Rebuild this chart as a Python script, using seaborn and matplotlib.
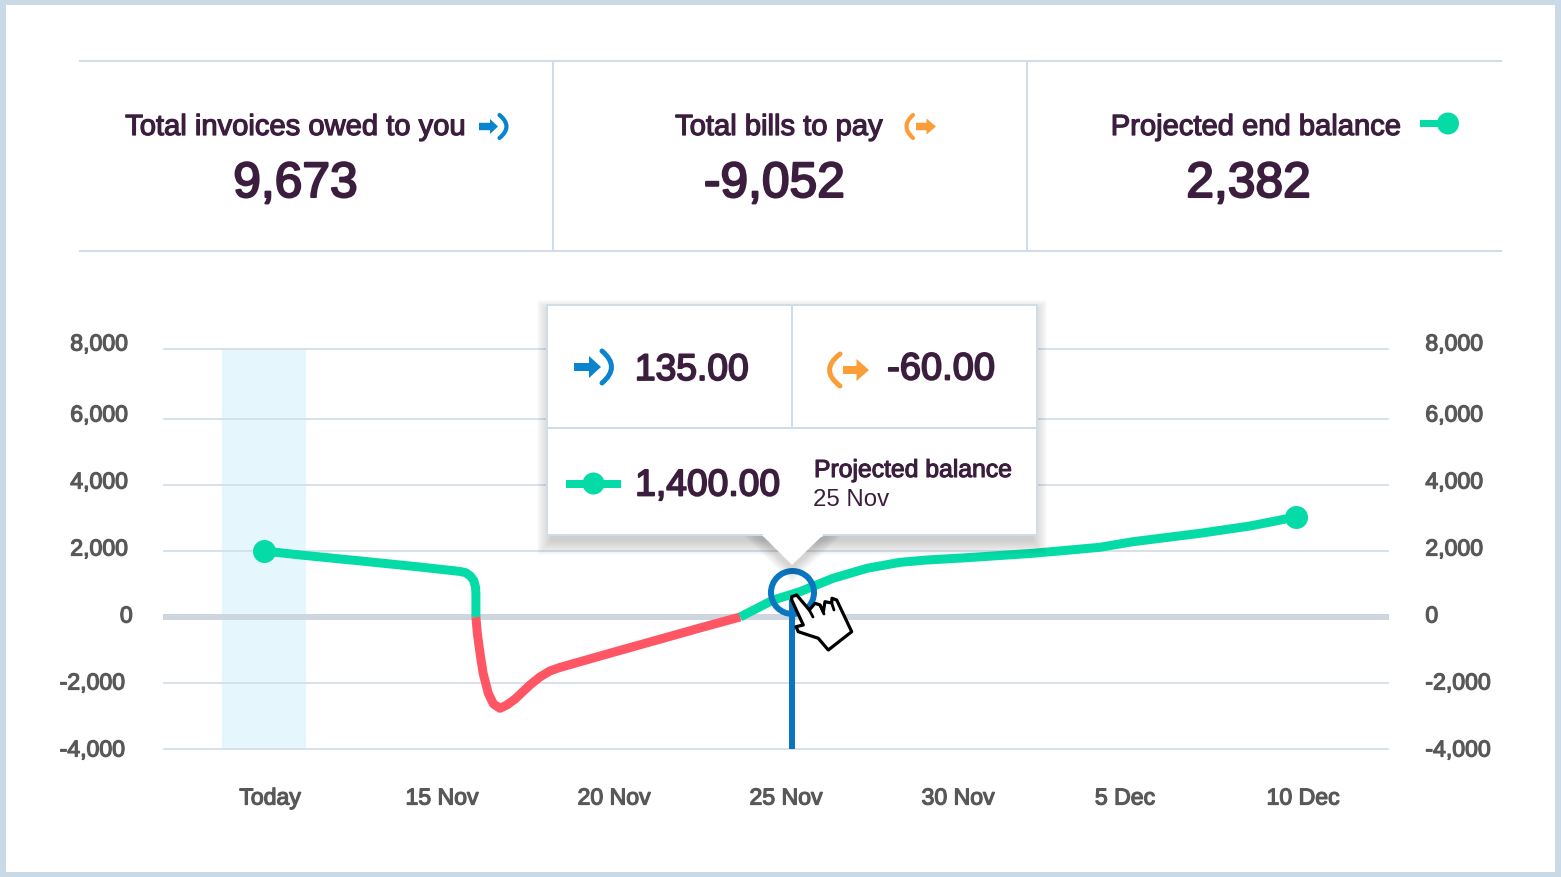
import numpy as np
import pandas as pd
import matplotlib
matplotlib.use("Agg")
import matplotlib.pyplot as plt
import matplotlib.patheffects as pe
from matplotlib.patches import Rectangle, Circle, Polygon, PathPatch
from matplotlib.path import Path
from matplotlib.transforms import ScaledTranslation
import seaborn as sns

# ---------- data ----------
kpi_labels = ["Total invoices owed to you", "Total bills to pay", "Projected end balance"]
kpi_values = ["9,673", "-9,052", "2,382"]
x_labels = ["Today", "15 Nov", "20 Nov", "25 Nov", "30 Nov", "5 Dec", "10 Dec"]
x_ticks = [0, 5, 10, 15, 20, 25, 30]
y_ticks = [-4000, -2000, 0, 2000, 4000, 6000, 8000]
y_labels = ["-4,000", "-2,000", "0", "2,000", "4,000", "6,000", "8,000"]

green1_day = [0, 1.05, 2.79, 4.53, 5.70, 5.87, 6.00, 6.10, 6.15, 6.16, 6.16]
green1_val = [2000, 1880, 1700, 1515, 1380, 1340, 1240, 1100, 900, 700, 0]
red_day = [6.16, 6.20, 6.28, 6.37, 6.52, 6.67, 6.86, 7.06, 7.30, 7.73, 8.02, 8.31, 8.60, 9.77, 11.22, 12.67, 13.84]
red_val = [0, -485, -1100, -1706, -2312, -2636, -2767, -2667, -2485, -2061, -1818, -1636, -1530, -1182, -758, -333, 0]
green2_day = [13.84, 14.80, 15.35, 15.58, 16.54, 17.53, 18.49, 19.27, 20.44, 22.35, 24.30, 25.26, 27.21, 28.66, 29.45, 30.0]
green2_val = [0, 515, 691, 767, 1173, 1476, 1657, 1727, 1797, 1930, 2112, 2282, 2536, 2757, 2918, 3039]
end_day = [0, 30]
end_val = [2000, 3039]
hover_day = 15.35
hover_val = 757
today_band = (-1.22, 1.22)

tip_in, tip_out, tip_bal = "135.00", "-60.00", "1,400.00"
tip_title, tip_date = "Projected balance", "25 Nov"

# ---------- style ----------
GREEN, RED, BLUE, ICON_BLUE, ORANGE = "#04dba6", "#ff5666", "#0a76c2", "#0a84cf", "#fb9d38"
INK, GREY, RULE, ZERO, FRAME = "#3b1e3e", "#585858", "#d3dde8", "#cdd6df", "#c9dae6"
sns.set_theme(style="white")
plt.rcParams["font.family"] = ["Liberation Sans", "DejaVu Sans"]
W, H = 1561, 878
PX = 0.72

fig = plt.figure(figsize=(W / 100, H / 100), dpi=100, facecolor="white")
ax = fig.add_axes([163 / W, (H - 750) / H, 1226 / W, 400 / H], zorder=1)
ax.set_facecolor("none")

# The original's top band is a little taller than the others.
def fwd(v):
    return np.interp(v, [-8000, -4000, 6000, 8000, 12000], [-132, 0, 330, 400, 540])
def inv(p):
    return np.interp(p, [-132, 0, 330, 400, 540], [-8000, -4000, 6000, 8000, 12000])
ax.set_yscale("function", functions=(fwd, inv))
ax.set_ylim(-4000, 8000)
ax.set_xlim((163 - 264) / 34.4, (1389 - 264) / 34.4)
sns.despine(ax=ax, left=True, bottom=True, right=True, top=True)

ax.axvspan(*today_band, color="#e6f6fd", lw=0, zorder=0)
for v in y_ticks:
    ax.axhline(v, color=ZERO if v == 0 else RULE, lw=(6 if v == 0 else 1.7) * PX, clip_on=False, zorder=1,
               solid_capstyle="butt")

ax.vlines(hover_day, -4000, hover_val, color=BLUE, lw=6 * PX, zorder=2)
for d, v, c in [(green1_day, green1_val, GREEN), (red_day, red_val, RED), (green2_day, green2_val, GREEN)]:
    sns.lineplot(data=pd.DataFrame({"day": d, "val": v}), x="day", y="val", color=c, lw=9 * PX,
                 estimator=None, sort=False, ax=ax, zorder=3, solid_capstyle="butt", solid_joinstyle="round")
sns.scatterplot(x=end_day, y=end_val, color=GREEN, s=(23 * PX) ** 2, linewidth=0, ax=ax, zorder=4, clip_on=False)
ax.plot([hover_day], [hover_val], "o", ms=43 * PX, mfc="none", mec=BLUE, mew=6 * PX, zorder=5, clip_on=False)
ax.set_xlabel(""); ax.set_ylabel("")

ax.set_xticks(x_ticks, x_labels)
ax.set_yticks(y_ticks, y_labels)
ax.minorticks_off()
ax.tick_params(axis="x", length=0, pad=0, labelsize=16.6, labelcolor=GREY)
ax.tick_params(axis="y", length=0, labelsize=16.6, labelcolor=GREY, labelleft=True, labelright=True)
stroke = [pe.withStroke(linewidth=0.9, foreground=GREY)]

def shift(label, dx, dy):
    label.set_transform(label.get_transform() + ScaledTranslation(dx / 100, -dy / 100, fig.dpi_scale_trans))
    label.set_path_effects(stroke)

x_dx = [6, 6, 6, 6, 6, 1, 7]
for tick, dx in zip(ax.xaxis.get_major_ticks(), x_dx):
    tick.label1.set_va("center")
    shift(tick.label1, dx, 49)
left_x = [126, 126, 134, 129, 129, 129, 129]
right_x = [1424, 1424, 1424, 1424, 1424, 1424, 1424]
y_dy = [1, 0, -1, -2, -3, -4, -5]
for tick, lx, rx, dy in zip(ax.yaxis.get_major_ticks(), left_x, right_x, y_dy):
    tick.label1.set_ha("right"); tick.label1.set_va("center")
    tick.label2.set_ha("left"); tick.label2.set_va("center")
    shift(tick.label1, lx - 163 + 3.5, dy)
    shift(tick.label2, rx - 1389 - 3.5, dy)

# ---------- overlay in pixel coordinates ----------
ov = fig.add_axes([0, 0, 1, 1], zorder=2)
ov.set_xlim(0, W); ov.set_ylim(H - 1, -1); ov.axis("off")

ov.add_patch(Rectangle((3, 2), W - 6, H - 5, fc="none", ec=FRAME, lw=6 * PX))

def rule(x0, y0, x1, y1, c="#d0dce7", w=2):
    ov.plot([x0, x1], [y0, y1], color=c, lw=w * PX, solid_capstyle="butt")

rule(79, 61, 1502, 61); rule(79, 251, 1502, 251)
rule(553, 61, 553, 251); rule(1027, 61, 1027, 251)

def text(x, y, s, size, ha="center", color=INK, bold=0.6):
    t = ov.text(x, y + 2, s, fontsize=size, ha=ha, va="center", color=color)
    if bold:
        t.set_path_effects([pe.withStroke(linewidth=bold, foreground=color)])
    return t

for x, s in zip([295.5, 774.5, 1248.5], kpi_labels and kpi_values):
    text(x, 182, s, 35.8, bold=1.5)
for x, s in zip([295.5, 779, 1256], kpi_labels):
    text(x, 125, s, 21.0, bold=0.9)

def arc(top, bulge, bottom, c, w):
    top, bulge, bottom = map(np.array, (top, bulge, bottom))
    ctrl = 2 * bulge - (top + bottom) / 2
    ov.add_patch(PathPatch(Path([top, ctrl, bottom], [Path.MOVETO, Path.CURVE3, Path.CURVE3]),
                           fc="none", ec=c, lw=w * PX, capstyle="round"))

def arrow(x0, xn, xt, y, hs, hh, c):
    ov.add_patch(Polygon([(x0, y - hs), (xn, y - hs), (xn, y - hh), (xt, y), (xn, y + hh), (xn, y + hs), (x0, y + hs)],
                         fc=c, ec="none"))

def lollipop(x0, x1, cx, cy, hs, r):
    ov.add_patch(Rectangle((x0, cy - hs), x1 - x0, 2 * hs, fc=GREEN, ec="none"))
    ov.add_patch(Circle((cx, cy), r, fc=GREEN, ec="none"))

arrow(479, 490, 498, 126.5, 3.7, 7.5, ICON_BLUE)
arc((499.5, 115), (506.5, 126.5), (499.5, 138), ICON_BLUE, 4.2)
arrow(916, 926.5, 936, 126.5, 3.7, 8, ORANGE)
arc((913, 115), (906.5, 126.5), (913, 138), ORANGE, 4.2)
lollipop(1420, 1440, 1448, 123.5, 3.7, 11)

# tooltip with soft shadow, cast downward
tip_x0, tip_x1, tip_y0, tip_y1 = 547, 1037, 305, 535
pointer = [(762, tip_y1), (792, 565), (823, tip_y1)]
for i in range(15, 0, -1):
    ov.add_patch(Rectangle((tip_x0 - i + 5, tip_y0 + 10 - i), tip_x1 - tip_x0 + 2 * i - 10, tip_y1 - tip_y0 + 2 * i - 5,
                           fc="#333333", ec="none", alpha=0.017))
    ov.add_patch(Polygon([(757 - i, tip_y1), (792, 568 + i), (828 + i, tip_y1)], fc="#333333", ec="none", alpha=0.012))
ov.add_patch(Rectangle((tip_x0, tip_y0), tip_x1 - tip_x0, tip_y1 - tip_y0, fc="white", ec="#d0dce7", lw=2 * PX))
ov.add_patch(Polygon(pointer, fc="white", ec="none"))
ov.plot([763, 822], [tip_y1, tip_y1], color="white", lw=3 * PX, solid_capstyle="butt")
rule(tip_x0, 428, tip_x1, 428); rule(792, tip_y0, 792, 428)

arrow(574, 589, 601, 367, 4, 11, ICON_BLUE)
arc((602, 351), (611.5, 367), (602, 383), ICON_BLUE, 5)
arrow(843, 856.5, 869, 370, 4, 11, ORANGE)
arc((840, 354), (829.5, 370), (840, 386), ORANGE, 5)
lollipop(566.5, 621, 593.5, 483.5, 4, 11)

text(692, 368.5, tip_in, 26.8, bold=1.3)
text(941, 367.5, tip_out, 27.4, bold=1.3)
text(708, 484, tip_bal, 26.8, bold=1.3)
text(814, 468, tip_title, 17.8, ha="left", bold=0.8)
text(813, 497.5, tip_date, 17.3, ha="left", bold=0)

# hand cursor
hand = [(791.7, 600), (791.7, 596.7), (796.7, 595), (809.3, 610), (815, 603.3), (820, 605), (823.3, 611.7),
        (825, 601.7), (831.7, 603), (832, 598.3), (836.7, 600), (851.7, 631.7), (828.3, 650), (818.3, 638.3),
        (798.3, 631.7), (796, 626.7), (803.3, 625)]
ov.add_patch(Polygon(hand, fc="white", ec="black", lw=3.2 * PX, joinstyle="round"))
for a, b in [((809.3, 610), (813, 617)), ((820, 605), (824, 614)), ((831.7, 603), (834, 610))]:
    ov.plot(*zip(a, b), color="black", lw=2.8 * PX)

fig.savefig("out.png", dpi=100, facecolor="white")
